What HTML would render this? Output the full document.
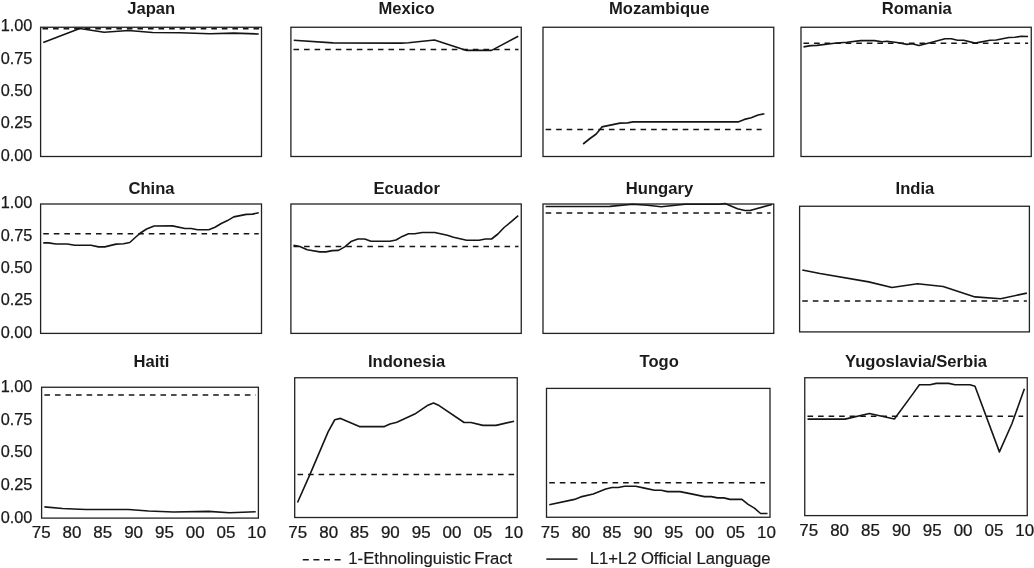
<!DOCTYPE html>
<html lang="en">
<head>
<meta charset="utf-8">
<title>Official language knowledge vs ethnolinguistic fractionalization</title>
<style>
html,body{margin:0;padding:0;background:#fff;}
body{width:1034px;height:568px;overflow:hidden;}
svg{display:block;}
text{font-family:"Liberation Sans", Arial, Helvetica, sans-serif;fill:#1a1a1a;}
.t{font-weight:bold;font-size:16.6px;text-anchor:middle;}
.y{font-size:16.3px;text-anchor:end;stroke:#1a1a1a;stroke-width:0.25px;}
.x{font-size:16px;text-anchor:middle;stroke:#1a1a1a;stroke-width:0.25px;}
.lg{font-size:16.7px;stroke:#1a1a1a;stroke-width:0.2px;}
.box{fill:none;stroke:#222;stroke-width:1.3;}
.s{fill:none;stroke:#151515;stroke-width:1.6;stroke-linejoin:round;stroke-linecap:butt;}
.d{fill:none;stroke:#151515;stroke-dasharray:5.6 4.95;}
</style>
</head>
<body>
<svg width="1034" height="568" viewBox="0 0 1034 568">
<rect x="0" y="0" width="1034" height="568" fill="#ffffff"/>
<g>
<text class="t" transform="translate(151.20 13.90) scale(1 0.97)">Japan</text>
<rect class="box" x="40.60" y="27.25" width="220.90" height="129.25"/>
<path class="d" stroke-width="1.8" d="M42.50 28.70H259.40"/>
<polyline class="s" points="43.25,42.50 79.75,28.50 104.10,32.25 128.50,30.50 152.50,32.50 180.00,32.80 210.00,33.75 233.75,33.10 258.75,34.00"/>
</g>
<g>
<text class="t" transform="translate(406.50 13.90) scale(1 0.97)">Mexico</text>
<rect class="box" x="290.90" y="27.25" width="230.35" height="129.25"/>
<path class="d" stroke-width="1.5" d="M293.50 49.50H518.50"/>
<polyline class="s" points="293.75,40.25 332.90,42.90 401.00,43.10 408.50,42.75 434.50,40.00 466.60,50.40 491.60,50.40 518.25,36.25"/>
</g>
<g>
<text class="t" transform="translate(659.20 13.90) scale(1 0.97)">Mozambique</text>
<rect class="box" x="543.00" y="27.25" width="230.75" height="129.25"/>
<path class="d" stroke-width="1.5" d="M545.60 129.50H761.60"/>
<polyline class="s" points="583.10,144.00 590.00,138.50 596.25,134.00 601.90,126.90 620.00,123.10 627.50,122.90 633.10,121.90 738.10,121.90 744.40,119.40 751.25,117.75 758.10,115.00 764.40,113.75"/>
</g>
<g>
<text class="t" transform="translate(916.70 13.90) scale(1 0.97)">Romania</text>
<rect class="box" x="801.00" y="27.25" width="230.25" height="129.25"/>
<path class="d" stroke-width="1.5" d="M803.50 43.30H1028.10"/>
<polyline class="s" points="803.50,46.90 810.75,45.60 817.00,45.40 834.50,43.30 847.00,42.30 860.75,40.60 874.50,40.60 882.00,41.70 887.00,41.25 897.00,42.50 907.00,44.40 912.00,43.75 918.90,45.60 930.00,42.75 945.00,38.75 951.25,38.75 957.50,40.25 963.75,40.25 975.00,43.10 990.00,40.25 996.25,40.00 1008.75,37.50 1015.00,37.25 1021.25,36.25 1028.10,36.50"/>
</g>
<g>
<text class="t" transform="translate(151.50 194.00) scale(1 0.97)">China</text>
<rect class="box" x="40.60" y="204.00" width="220.90" height="129.40"/>
<path class="d" stroke-width="1.5" d="M43.25 233.75H258.75"/>
<polyline class="s" points="43.25,242.90 48.50,242.90 56.00,244.00 67.25,244.00 74.75,245.25 91.00,245.25 98.50,246.90 104.75,246.90 116.00,244.10 123.50,243.75 129.75,242.50 139.75,233.50 146.60,229.00 154.10,226.00 172.50,225.90 185.00,228.50 191.25,228.50 197.50,229.75 208.75,229.75 215.00,227.25 221.25,223.50 227.50,220.60 233.75,216.90 246.25,214.40 252.50,214.10 258.75,212.75"/>
</g>
<g>
<text class="t" transform="translate(406.70 194.00) scale(1 0.97)">Ecuador</text>
<rect class="box" x="290.90" y="204.00" width="230.35" height="129.40"/>
<path class="d" stroke-width="1.5" d="M293.50 246.60H518.50"/>
<polyline class="s" points="293.50,245.25 299.75,246.50 307.25,249.75 319.75,251.90 326.00,251.90 332.25,250.60 338.50,250.40 344.75,246.90 351.00,241.60 357.90,239.00 364.75,239.00 371.00,241.25 389.75,241.25 396.00,240.00 402.25,236.40 408.50,233.75 414.75,233.75 422.25,232.50 434.75,232.50 447.25,235.25 453.50,237.25 466.60,240.25 479.10,240.25 485.40,239.00 491.60,239.00 497.90,234.00 504.10,227.50 511.00,221.90 518.25,215.60"/>
</g>
<g>
<text class="t" transform="translate(659.50 194.00) scale(1 0.97)">Hungary</text>
<rect class="box" x="543.00" y="204.00" width="230.75" height="129.40"/>
<path class="d" stroke-width="1.5" d="M545.60 213.10H770.60"/>
<polyline class="s" points="545.60,206.55 610.00,206.40 632.50,204.20 647.50,205.25 661.25,206.70 685.00,204.20 720.00,204.20 725.00,203.50 737.50,208.75 745.00,210.50 750.00,210.50 771.90,204.40"/>
</g>
<g>
<text class="t" transform="translate(914.90 194.00) scale(1 0.97)">India</text>
<rect class="box" x="799.60" y="206.25" width="229.80" height="125.65"/>
<path class="d" stroke-width="1.5" d="M802.25 300.90H1026.90"/>
<polyline class="s" points="802.25,270.00 820.00,273.50 868.75,281.90 891.90,287.50 917.50,283.75 943.10,286.50 975.00,296.90 1000.60,298.75 1026.90,293.10"/>
</g>
<g>
<text class="t" transform="translate(151.40 367.00) scale(1 0.97)">Haiti</text>
<rect class="box" x="41.60" y="387.25" width="216.80" height="130.85"/>
<path class="d" stroke-width="1.3" d="M44.40 395.00H255.80"/>
<polyline class="s" points="44.40,506.90 62.50,508.50 73.50,509.00 86.00,509.50 128.50,509.50 148.50,511.00 173.50,512.00 208.50,511.40 229.50,512.75 255.70,511.80"/>
</g>
<g>
<text class="t" transform="translate(406.60 367.00) scale(1 0.97)">Indonesia</text>
<rect class="box" x="294.70" y="377.75" width="222.55" height="139.75"/>
<path class="d" stroke-width="1.45" d="M297.50 474.40H514.30"/>
<polyline class="s" points="297.50,502.50 310.00,474.40 328.10,431.90 334.75,419.75 340.60,418.40 359.40,426.60 384.40,426.60 390.00,424.10 396.90,422.25 414.75,414.10 427.25,405.60 433.50,403.10 439.10,405.60 464.10,422.50 471.00,422.50 482.90,425.40 496.00,425.40 514.10,421.25"/>
</g>
<g>
<text class="t" transform="translate(659.20 367.00) scale(1 0.97)">Togo</text>
<rect class="box" x="546.50" y="388.40" width="223.50" height="128.85"/>
<path class="d" stroke-width="1.6" d="M549.25 482.75H765.00"/>
<polyline class="s" points="549.25,504.75 574.50,499.40 580.75,496.90 593.25,494.00 605.75,489.00 612.00,487.50 618.25,487.50 624.50,486.25 635.75,486.25 644.50,488.10 654.50,490.25 661.25,490.25 667.50,491.60 680.00,491.60 692.50,494.10 704.40,496.60 711.25,496.60 717.50,497.90 723.75,497.90 730.00,499.40 741.90,499.40 748.10,504.40 754.40,508.10 760.60,513.50 767.50,513.50"/>
</g>
<g>
<text class="t" transform="translate(916.00 367.00) scale(1 0.97)">Yugoslavia/Serbia</text>
<rect class="box" x="804.75" y="377.75" width="222.50" height="137.85"/>
<path class="d" stroke-width="1.3" d="M807.50 416.25H1023.20"/>
<polyline class="s" points="807.50,419.10 845.00,419.10 869.40,413.50 894.40,419.00 912.50,394.40 919.40,384.75 930.00,384.75 936.25,383.40 948.75,383.40 955.00,384.75 970.00,384.75 975.00,386.25 999.40,451.90 1011.90,423.75 1024.40,388.75"/>
</g>
<text class="y" transform="translate(32.4 31.30) scale(1 1.000)">1.00</text>
<text class="y" transform="translate(32.4 63.61) scale(1 1.000)">0.75</text>
<text class="y" transform="translate(32.4 95.92) scale(1 1.000)">0.50</text>
<text class="y" transform="translate(32.4 128.24) scale(1 1.000)">0.25</text>
<text class="y" transform="translate(32.4 160.55) scale(1 1.000)">0.00</text>
<text class="y" transform="translate(32.4 208.35) scale(1 1.000)">1.00</text>
<text class="y" transform="translate(32.4 240.70) scale(1 1.000)">0.75</text>
<text class="y" transform="translate(32.4 273.05) scale(1 1.000)">0.50</text>
<text class="y" transform="translate(32.4 305.40) scale(1 1.000)">0.25</text>
<text class="y" transform="translate(32.4 337.75) scale(1 1.000)">0.00</text>
<text class="y" transform="translate(32.4 392.05) scale(1 1.000)">1.00</text>
<text class="y" transform="translate(32.4 424.76) scale(1 1.000)">0.75</text>
<text class="y" transform="translate(32.4 457.48) scale(1 1.000)">0.50</text>
<text class="y" transform="translate(32.4 490.19) scale(1 1.000)">0.25</text>
<text class="y" transform="translate(32.4 522.90) scale(1 1.000)">0.00</text>
<text class="x" transform="translate(41.20 538.35) scale(1.06 0.975)">75</text>
<text class="x" transform="translate(72.00 538.35) scale(1.06 0.975)">80</text>
<text class="x" transform="translate(102.80 538.35) scale(1.06 0.975)">85</text>
<text class="x" transform="translate(133.60 538.35) scale(1.06 0.975)">90</text>
<text class="x" transform="translate(164.40 538.35) scale(1.06 0.975)">95</text>
<text class="x" transform="translate(195.20 538.35) scale(1.06 0.975)">00</text>
<text class="x" transform="translate(226.00 538.35) scale(1.06 0.975)">05</text>
<text class="x" transform="translate(256.80 538.35) scale(1.06 0.975)">10</text>
<text class="x" transform="translate(297.80 538.35) scale(1.06 0.975)">75</text>
<text class="x" transform="translate(328.64 538.35) scale(1.06 0.975)">80</text>
<text class="x" transform="translate(359.49 538.35) scale(1.06 0.975)">85</text>
<text class="x" transform="translate(390.33 538.35) scale(1.06 0.975)">90</text>
<text class="x" transform="translate(421.17 538.35) scale(1.06 0.975)">95</text>
<text class="x" transform="translate(452.01 538.35) scale(1.06 0.975)">00</text>
<text class="x" transform="translate(482.86 538.35) scale(1.06 0.975)">05</text>
<text class="x" transform="translate(513.70 538.35) scale(1.06 0.975)">10</text>
<text class="x" transform="translate(550.20 538.35) scale(1.06 0.975)">75</text>
<text class="x" transform="translate(581.10 538.35) scale(1.06 0.975)">80</text>
<text class="x" transform="translate(612.00 538.35) scale(1.06 0.975)">85</text>
<text class="x" transform="translate(642.90 538.35) scale(1.06 0.975)">90</text>
<text class="x" transform="translate(673.80 538.35) scale(1.06 0.975)">95</text>
<text class="x" transform="translate(704.70 538.35) scale(1.06 0.975)">00</text>
<text class="x" transform="translate(735.60 538.35) scale(1.06 0.975)">05</text>
<text class="x" transform="translate(766.50 538.35) scale(1.06 0.975)">10</text>
<text class="x" transform="translate(808.70 535.50) scale(1.06 0.975)">75</text>
<text class="x" transform="translate(839.57 535.50) scale(1.06 0.975)">80</text>
<text class="x" transform="translate(870.44 535.50) scale(1.06 0.975)">85</text>
<text class="x" transform="translate(901.31 535.50) scale(1.06 0.975)">90</text>
<text class="x" transform="translate(932.19 535.50) scale(1.06 0.975)">95</text>
<text class="x" transform="translate(963.06 535.50) scale(1.06 0.975)">00</text>
<text class="x" transform="translate(993.93 535.50) scale(1.06 0.975)">05</text>
<text class="x" transform="translate(1024.80 535.50) scale(1.06 0.975)">10</text>
<path d="M302.8 559.7H341" fill="none" stroke="#151515" stroke-width="1.5" stroke-dasharray="6 4.6"/>
<text class="lg" transform="translate(0 563.8) scale(1 0.96)"><tspan x="348.3">1-Ethnolinguistic</tspan> <tspan x="474.2">Fract</tspan></text>
<path d="M546.3 559.1H577.5" fill="none" stroke="#151515" stroke-width="1.5"/>
<text class="lg" transform="translate(0 563.8) scale(1 0.96)"><tspan x="589.8">L1+L2</tspan> <tspan x="640.9">Official</tspan> <tspan x="696.4">Language</tspan></text>
</svg>
</body>
</html>
